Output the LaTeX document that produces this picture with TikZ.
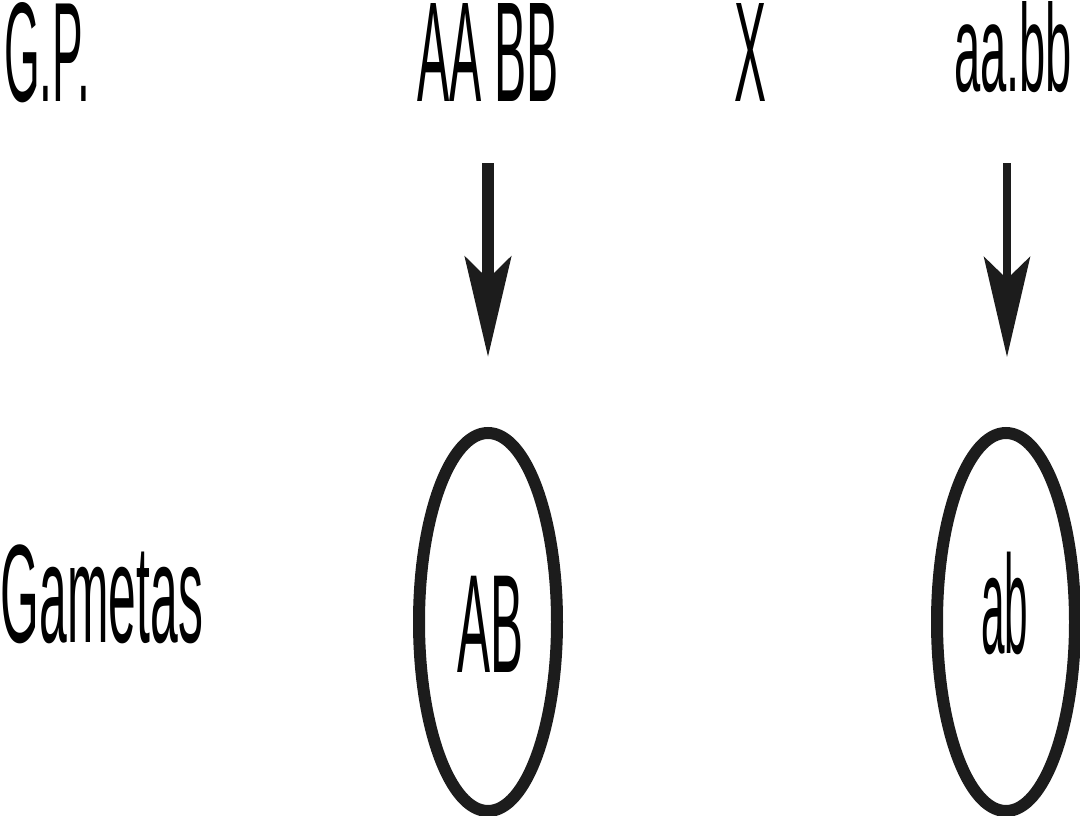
\documentclass[tikz,border=0pt]{standalone}
\usepackage{fontspec}
\setmainfont{Liberation Sans}
\usepackage{graphicx}
\usetikzlibrary{shapes.geometric,arrows.meta}
\definecolor{ink}{HTML}{1C1C1C}
\begin{document}
\begin{tikzpicture}[x=1pt,y=-1pt,
  lbl/.style={anchor=base west, inner sep=0pt, outer sep=0pt, font=\fontsize{140}{140}\selectfont},
  gam/.style={ellipse, draw=ink, line width=12pt, minimum width=138pt, minimum height=378pt, inner sep=0pt},
  arr/.style={draw=ink, -{Stealth[length=100pt,width=46pt,inset=22pt]}}]
\useasboundingbox (0,0) rectangle (1080,816);
% top row
\node[lbl] (gp) at (4,101.5) {\resizebox{86pt}{99pt}{G.P.}};
\node[lbl] (p1) at (417,101.5) {\resizebox{142pt}{98pt}{AA BB}};
\node[lbl] (cross) at (734,101.5) {\resizebox{32pt}{98pt}{X}};
\node[lbl] (p2) at (954,92) {\resizebox{118pt}{90pt}{aa.bb}};
% gametes row
\node[lbl] (gl) at (1,642) {\resizebox{202pt}{\height}{Gametas}};
\node[gam] (g1) at (488,622) {};
\node[gam] (g2) at (1006,622) {};
\node[lbl] (t1) at (457,672) {\resizebox{66pt}{\height}{AB}};
\node[lbl] (t2) at (981,653) {\resizebox{47pt}{\height}{ab}};
% arrows
\coordinate (a1s) at (488,163);
\coordinate (a1e) at (488,357);
\coordinate (a2s) at (1007,163);
\coordinate (a2e) at (1007,357);
\draw[arr, line width=12pt] (a1s) -- (a1e);
\draw[arr, line width=8pt] (a2s) -- (a2e);
\end{tikzpicture}
\end{document}
